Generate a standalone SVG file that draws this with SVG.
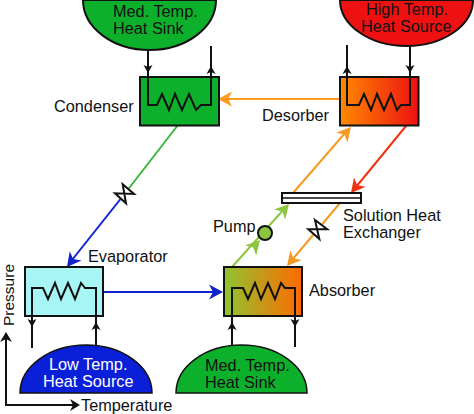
<svg xmlns="http://www.w3.org/2000/svg" width="474" height="414" viewBox="0 0 474 414">
<style>
text{font-family:"Liberation Sans",Arial,sans-serif;font-size:16.3px;fill:#111}
.box{stroke:#111;stroke-width:2}
.res{stroke:#111;stroke-width:1.5}
.coil{fill:none;stroke:#111;stroke-width:2}
.pipe{fill:none;stroke-width:2}
.valve{fill:#fff;stroke:#111;stroke-width:2}
</style>
<defs>
<linearGradient id="gD"><stop offset="0" stop-color="#ff8a00"/><stop offset="1" stop-color="#ee1111"/></linearGradient>
<linearGradient id="gA"><stop offset="0" stop-color="#8fc431"/><stop offset="1" stop-color="#ff6a00"/></linearGradient>
<path id="hDown" d="M0 0L-4.500 -8L0 -6L4.500 -8Z" fill="#111"/>
<path id="hBig" d="M0 0L-14 -7.500L-10 0L-14 7.500Z"/>
</defs>
<g id="connectors">
<g class="pipe">
<path d="M340 99H224" stroke="#ff9a1a"/>
<path d="M178 125L124.500 194" stroke="#3cb83c"/>
<path d="M124.500 194L72 260" stroke="#1022cc"/>
<path d="M293 193L346 132" stroke="#f59a25"/>
<path d="M406 126L356 187" stroke="#ee3311"/>
<path d="M232 267L285 208" stroke="#8cc63f"/>
<path d="M340 203L292 260" stroke="#f59a25"/>
<path d="M103 292H216" stroke="#1022cc"/>
</g>
<use href="#hBig" transform="translate(218 99) rotate(180)" fill="#ff9a1a"/>
<use href="#hBig" transform="translate(67 267) rotate(128)" fill="#1022cc"/>
<use href="#hBig" transform="translate(351 127) rotate(-49)" fill="#f59a25"/>
<use href="#hBig" transform="translate(351 193) rotate(129)" fill="#ee3311"/>
<use href="#hBig" transform="translate(289 204) rotate(-48)" fill="#8cc63f"/>
<use href="#hBig" transform="translate(260 240) rotate(-48)" fill="#8cc63f"/>
<use href="#hBig" transform="translate(287 266) rotate(130)" fill="#f59a25"/>
<use href="#hBig" transform="translate(223 292)" fill="#1022cc"/>
</g>
<g id="axes">
<path d="M6 338V405H74" fill="none" stroke="#111" stroke-width="2"/>
<path d="M6 332L0 342L6 339L12 342Z M80 405L70 399L73 405L70 411Z" fill="#111"/>
<text transform="translate(14.200 326) rotate(-90)" style="font-size:15.500px">Pressure</text>
<text x="81" y="411">Temperature</text>
</g>
<g id="sink-top">
<path d="M83 0A66.500 50 0 0 0 216 0Z" fill="#0db02b" stroke="#111" stroke-width="2"/>
<text x="113" y="17">Med. Temp.</text>
<text x="113" y="34">Heat Sink</text>
</g>
<g id="source-high">
<path d="M340 0A66.500 46 0 0 0 473 0Z" fill="#ee1111" stroke="#111" stroke-width="2"/>
<text x="366" y="14.500">High Temp.</text>
<text x="361" y="31.500">Heat Source</text>
</g>
<g id="condenser">
<rect class="box" x="140" y="77" width="79" height="48.500" fill="#0db02b"/>
<path class="coil" d="M148 50V105H157L162 94L169 110L175 94L182 110L189 94L196 110L201 105H211V46"/>
<use href="#hDown" transform="translate(148 73)"/>
<use href="#hDown" transform="translate(211 66) rotate(180)"/>
<text x="54" y="112">Condenser</text>
</g>
<g id="desorber">
<rect class="box" x="340" y="77" width="78.500" height="48.500" fill="url(#gD)"/>
<path class="coil" d="M347 45V105H359L364 94L371 110L377 94L384 110L391 94L397 110L401 105H410V46"/>
<use href="#hDown" transform="translate(347 66) rotate(180)"/>
<use href="#hDown" transform="translate(410 73)"/>
<text x="262" y="121">Desorber</text>
</g>
<g id="heat-exchanger">
<rect class="box" x="282" y="193" width="79" height="10" fill="#fff"/>
<path class="res" d="M282 198H361"/>
<text x="343" y="221">Solution Heat</text>
<text x="343" y="238">Exchanger</text>
</g>
<g id="valve-1">
<path class="valve" d="M122.700 184.300L134 194L115 193.300L126 203.300Z"/>
</g>
<g id="valve-2">
<path class="valve" d="M315 220L327.300 229.300L308.300 229.300L319.300 239Z"/>
</g>
<g id="pump">
<circle cx="265" cy="233" r="7" fill="#8cc63f" stroke="#111" stroke-width="2"/>
<text x="213" y="232">Pump</text>
</g>
<g id="evaporator">
<rect class="box" x="25" y="267" width="78" height="49" fill="#a8f5f5"/>
<path class="coil" d="M32 348V288H43L48 299L55 283L61 299L68 283L75 299L81 283L85 288H96V345"/>
<use href="#hDown" transform="translate(32 327)"/>
<use href="#hDown" transform="translate(96 322) rotate(180)"/>
<text x="88" y="262">Evaporator</text>
</g>
<g id="absorber">
<rect class="box" x="224" y="267" width="78" height="49" fill="url(#gA)"/>
<path class="coil" d="M232 345V288H243L248 299L255 283L261 299L268 283L275 299L281 283L285 288H295V347"/>
<use href="#hDown" transform="translate(232 322) rotate(180)"/>
<use href="#hDown" transform="translate(295 327)"/>
<text x="309" y="296">Absorber</text>
</g>
<g id="source-low">
<path d="M20 393A66 48 0 0 1 152 393Z" fill="#0a1fd8" stroke="#111" stroke-width="1.500"/>
<text x="49" y="370" style="fill:#fff">Low Temp.</text>
<text x="43" y="387" style="fill:#fff">Heat Source</text>
</g>
<g id="sink-bottom">
<path d="M176 393A65.500 48 0 0 1 307 393Z" fill="#0db02b" stroke="#111" stroke-width="1.500"/>
<text x="205" y="371">Med. Temp.</text>
<text x="205" y="388">Heat Sink</text>
</g>
</svg>
